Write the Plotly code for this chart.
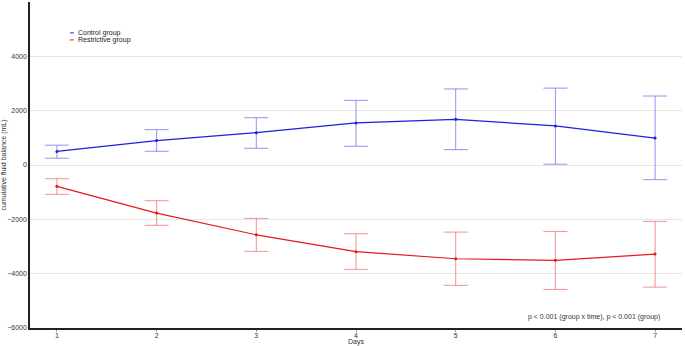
import plotly.graph_objects as go

days = [1, 2, 3, 4, 5, 6, 7]
control_mean = [500, 900, 1190, 1550, 1680, 1440, 990]
control_upper = [730, 1300, 1740, 2380, 2800, 2830, 2540]
control_lower = [250, 505, 615, 690, 565, 30, -540]
restrict_mean = [-785, -1770, -2570, -3190, -3450, -3510, -3280]
restrict_upper = [-505, -1315, -1965, -2530, -2470, -2445, -2075]
restrict_lower = [-1080, -2220, -3180, -3840, -4430, -4580, -4495]

BLUE = "#1f1fe0"
RED = "#e81818"
TXT = "#333333"

def err(mean, up, lo):
    return dict(type="data", symmetric=False,
                array=[u - m for u, m in zip(up, mean)],
                arrayminus=[m - l for m, l in zip(mean, lo)])

fig = go.Figure()
fig.add_trace(go.Scatter(
    x=days, y=control_mean, name="Control group", mode="lines+markers",
    line=dict(color=BLUE, width=1.2), marker=dict(size=3, color=BLUE), showlegend=False,
    error_y=dict(**err(control_mean, control_upper, control_lower),
                 color="rgba(110,110,235,0.75)", thickness=1, width=12)))
fig.add_trace(go.Scatter(
    x=days, y=restrict_mean, name="Restrictive group", mode="lines+markers",
    line=dict(color=RED, width=1.2), marker=dict(size=3, color=RED), showlegend=False,
    error_y=dict(**err(restrict_mean, restrict_upper, restrict_lower),
                 color="rgba(235,110,110,0.75)", thickness=1, width=12)))

# compact legend (as in the reference)
for name, col, yp in [("Control group", BLUE, 0.906), ("Restrictive group", RED, 0.884)]:
    fig.add_annotation(x=0.056, y=yp, xref="paper", yref="paper", xanchor="left",
                       yanchor="middle", showarrow=False, text="━",
                       font=dict(size=6, color=col))
    fig.add_annotation(x=0.07, y=yp, xref="paper", yref="paper", xanchor="left",
                       yanchor="middle", showarrow=False, text=name,
                       font=dict(size=7, color="#222"))

fig.add_annotation(x=0.97, y=0.035, xref="paper", yref="paper", xanchor="right",
                   yanchor="middle", showarrow=False,
                   text="p < 0.001 (group x time), p < 0.001 (group)",
                   font=dict(size=7, color=TXT))

fig.update_layout(
    width=685, height=346,
    margin=dict(l=30, r=3, t=2, b=18),
    paper_bgcolor="white", plot_bgcolor="white",
    font=dict(family="Liberation Sans, Arial, sans-serif", size=7, color=TXT),
    showlegend=False,
    xaxis=dict(range=[0.73, 7.27], tickvals=days, ticktext=[str(d) for d in days],
               showgrid=False, showline=True, linecolor="#222", linewidth=1.5,
               ticks="outside", ticklen=2, tickcolor="#999", zeroline=False,
               ticklabelstandoff=-2,
               automargin=False, tickfont=dict(size=7, color=TXT),
               title=dict(text="Days", font=dict(size=7, color=TXT), standoff=1)),
    yaxis=dict(range=[-6000, 6000], tickvals=[-6000, -4000, -2000, 0, 2000, 4000, 6000],
               showgrid=True, gridcolor="#e6e6e6", gridwidth=1,
               showline=True, linecolor="#222", linewidth=1.5, zeroline=False,
               automargin=False, ticks="", tickfont=dict(size=7, color=TXT),
               title=dict(text="cumulative fluid balance (mL)", font=dict(size=7, color=TXT),
                          standoff=1)),
)

fig.write_html("out.html", config={"displayModeBar": False},
               post_script="document.body.style.margin='0px';document.body.style.padding='0px';")
